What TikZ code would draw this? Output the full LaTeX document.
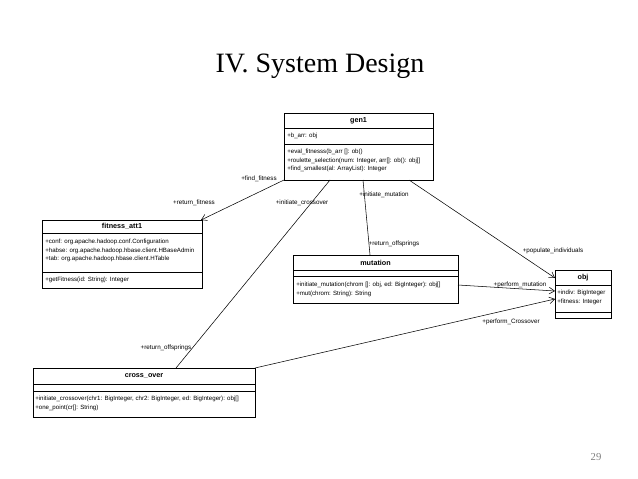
\documentclass[tikz,border=0pt]{standalone}
\usepackage{fontspec}
\setmainfont{Liberation Serif}
\newfontfamily\uml{Liberation Sans}
\usetikzlibrary{arrows.meta,calc}
\begin{document}
\begin{tikzpicture}[x=0.75pt,y=-0.75pt,
  box/.style={draw,line width=0.5pt,inner sep=0pt},
  ttl/.style={font=\uml\fontsize{5.4}{6}\selectfont\bfseries},
  txt/.style={font=\uml\fontsize{4.6}{6.4}\selectfont,anchor=north west,align=left,inner sep=0pt},
  lbl/.style={font=\uml\fontsize{4.7}{6}\selectfont,inner sep=0pt},
  con/.style={line width=0.4pt},
  arr/.style={con,-{Straight Barb[length=4pt,width=5pt]}}]
\useasboundingbox (0,0) rectangle (638,478);
\fill[white] (0,0) rectangle (638,478);
\node[font=\fontsize{21}{24}\selectfont] (title) at (320,66) {IV. System Design};
\node[font=\fontsize{8}{9}\selectfont,text=gray] (page) at (596,457) {29};
% gen1
\draw[box] (284,113) rectangle (433,180);
\draw (284,128) -- (433,128) (284,144) -- (433,144);
\node[ttl] (gen1) at (358.5,120.5) {gen1};
\node[txt] (gen1a) at (287,133) {+b\_arr: obj};
\node[txt] (gen1m) at (287,149) {+eval\_fitnesss(b\_arr []: ob()\\+roulette\_selection(num: Integer, arr[]: ob(): obj[]\\+find\_smallest(al: ArrayList): Integer};
% fitness_att1
\draw[box] (42,220) rectangle (202,288);
\draw (42,233) -- (202,233) (42,272) -- (202,272);
\node[ttl] (fit) at (122,226.5) {fitness\_att1};
\node[txt] (fita) at (45,239) {+conf: org.apache.hadoop.conf.Configuration\\+habse: org.apache.hadoop.hbase.client.HBaseAdmin\\+tab: org.apache.hadoop.hbase.client.HTable};
\node[txt] (fitm) at (45,277) {+getFitness(id: String): Integer};
% mutation
\draw[box] (293,255) rectangle (458,303);
\draw (293,270) -- (458,270) (293,276) -- (458,276);
\node[ttl] (mut) at (375.5,262.5) {mutation};
\node[txt] (mutm) at (296,282) {+initiate\_mutation(chrom []: obj, ed: BigInteger): obj[]\\+mut(chrom: String): String};
% obj
\draw[box] (555,270) rectangle (611,318);
\draw (555,285) -- (611,285) (555,312) -- (611,312);
\node[ttl] (obj) at (583,277.5) {obj};
\node[txt] (obja) at (557,290) {+indiv: BigInteger\\+fitness: Integer};
% cross_over
\draw[box] (33,368) rectangle (255,417);
\draw (33,384) -- (255,384) (33,391) -- (255,391);
\node[ttl] (co) at (144,376) {cross\_over};
\node[txt] (com) at (35,396) {+initiate\_crossover(chr1: BigInteger, chr2: BigInteger, ed: BigInteger): obj[]\\+one\_point(cr[]: String)};
% connector end points
\coordinate (gA) at (284,180);
\coordinate (gB) at (330,180);
\coordinate (gC) at (363,180);
\coordinate (gD) at (409,180);
\coordinate (fT) at (201,220);
\coordinate (cT) at (176,368);
\coordinate (cR) at (255,368);
\coordinate (mT) at (370,255);
\coordinate (mR) at (458,285);
\coordinate (oA) at (555,278);
\coordinate (oB) at (555,291);
\coordinate (oC) at (555,299);
\draw[arr] (gA) -- (fT);
\draw[con] (gB) -- (cT);
\draw[con] (gC) -- (mT);
\draw[arr] (gD) -- (oA);
\draw[arr] (mR) -- (oB);
\draw[arr] (cR) -- (oC);
% labels
\node[lbl] (l1) at (259,179) {+find\_fitness};
\node[lbl] (l2) at (194,203) {+return\_fitness};
\node[lbl] (l3) at (302,203) {+initiate\_crossover};
\node[lbl] (l4) at (384,195) {+initiate\_mutation};
\node[lbl] (l5) at (394,244) {+return\_offsprings};
\node[lbl] (l6) at (553,251) {+populate\_individuals};
\node[lbl] (l7) at (520,285) {+perform\_mutation};
\node[lbl] (l8) at (511,322) {+perform\_Crossover};
\node[lbl] (l9) at (166,348) {+return\_offsprings};
\end{tikzpicture}
\end{document}
